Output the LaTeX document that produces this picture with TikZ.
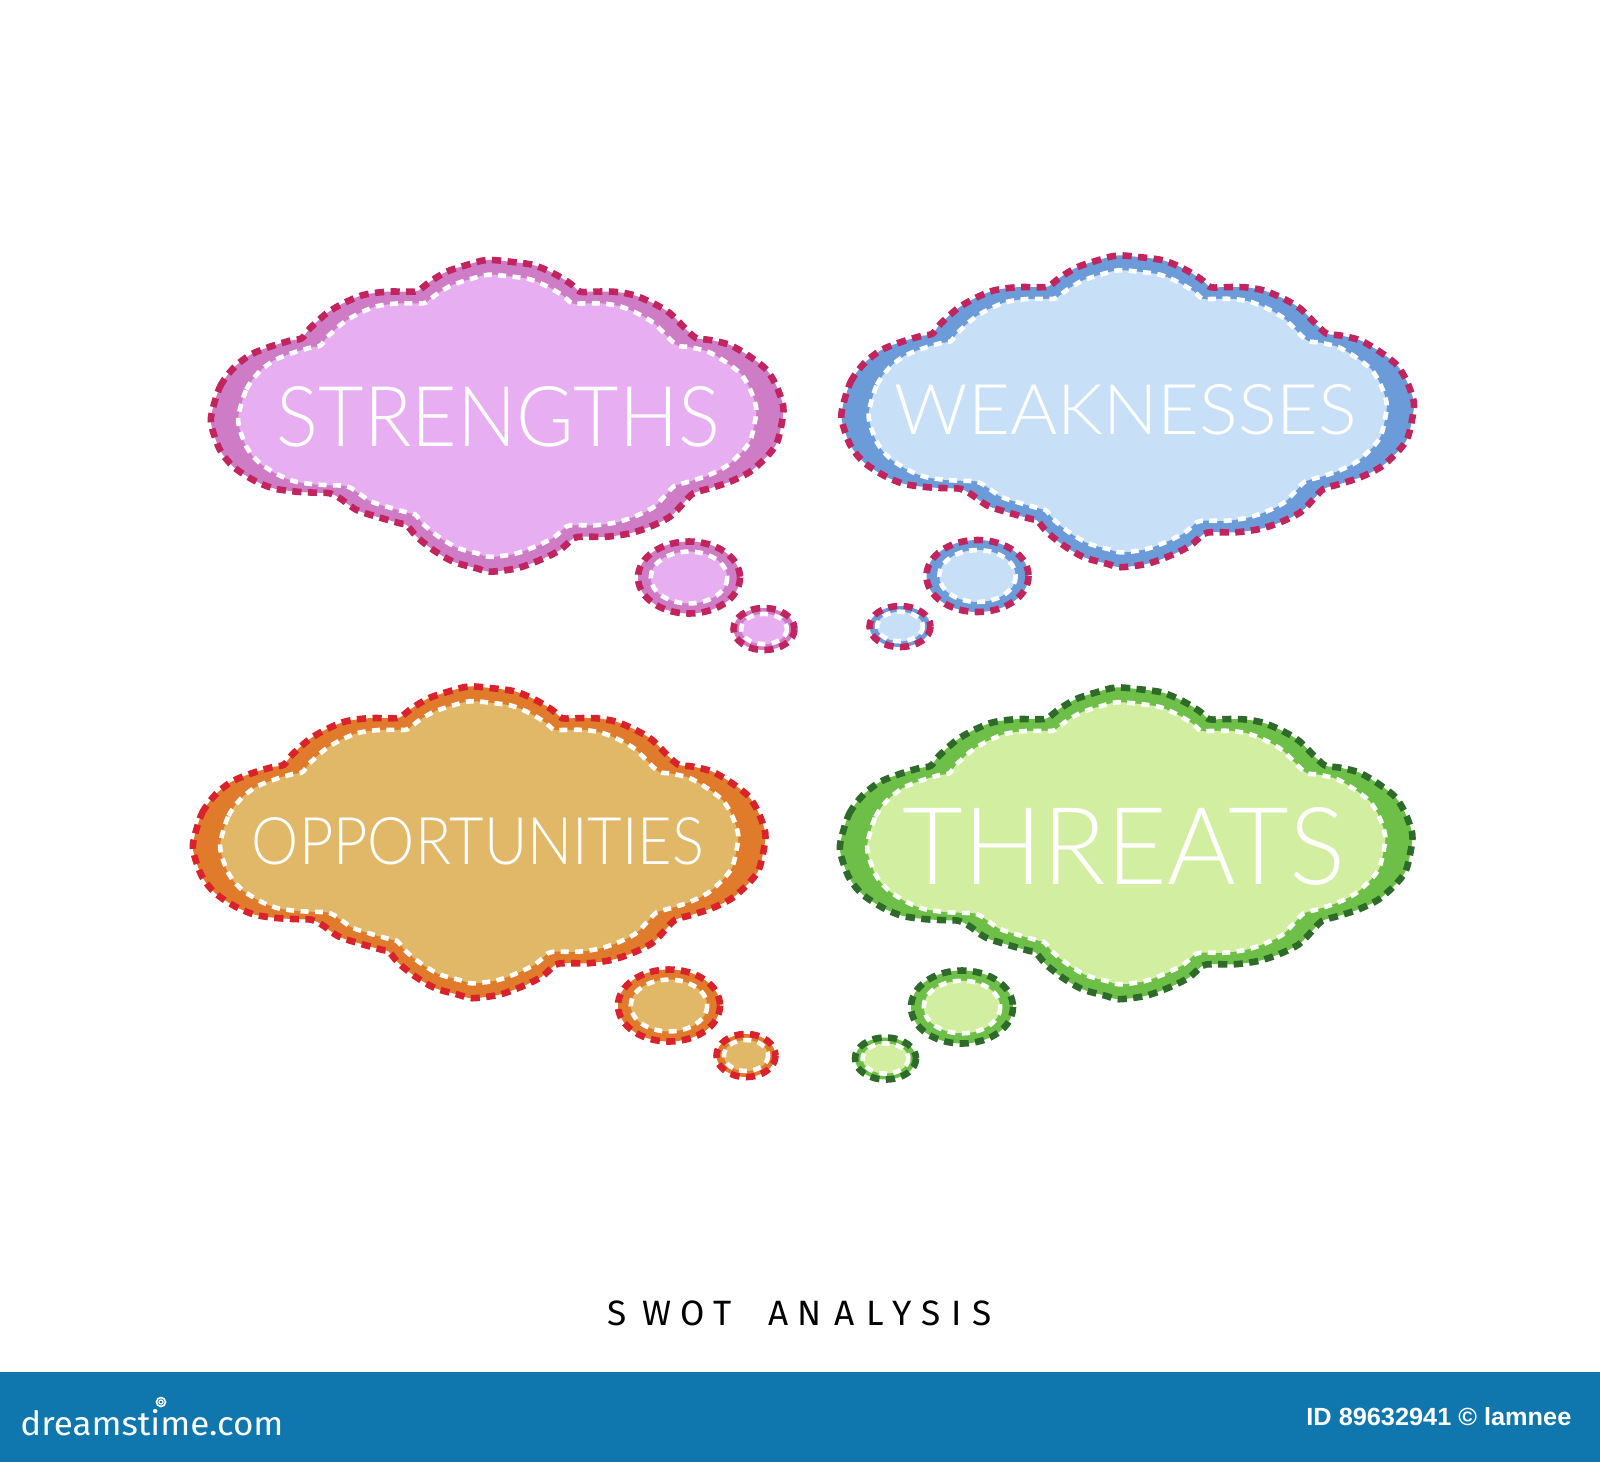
\documentclass[tikz,border=0pt]{standalone}
\usepackage{fontspec}
\setmainfont{Fira Sans}
\IfFontExistsTF{Lato Light}{\newfontfamily\thinfont{Lato Light}}{%
  \IfFontExistsTF{Open Sans Light}{\newfontfamily\thinfont{Open Sans Light}}{%
    \newfontfamily\thinfont{Carlito}}}
\newfontfamily\barfont{Liberation Sans}
\usepackage{graphicx}
\definecolor{sfill}{HTML}{E8AEF2}
\definecolor{sband}{HTML}{CF7CC6}
\definecolor{sdash}{HTML}{C2245F}
\definecolor{wfill}{HTML}{C7E0F7}
\definecolor{wband}{HTML}{6B9BD9}
\definecolor{wdash}{HTML}{C2245F}
\definecolor{ofill}{HTML}{E1B867}
\definecolor{oband}{HTML}{DF7B2B}
\definecolor{odash}{HTML}{D9222B}
\definecolor{tfill}{HTML}{D2EEA0}
\definecolor{tband}{HTML}{6DBF47}
\definecolor{tdash}{HTML}{2E6B2A}
\definecolor{barblue}{HTML}{0F77AE}
\def\cloudpath{plot[smooth cycle,tension=0.5] coordinates {
(-285.8,-2.2) (-277.5,-28.8) (-264.2,-47.2) (-247.5,-60.5) (-227.5,-68.8) (-207.5,-74.8) (-195.8,-77.2) (-187.5,-87.2) (-170.8,-102.2) (-154.2,-112.2) (-134.2,-120.5) (-110.8,-123.8) (-87.5,-123.8) (-79.2,-124.8) (-67.5,-133.8) (-50.8,-143.8) (-30.8,-150.5) (-10.8,-155.5) (12.5,-153.8) (35.8,-150.5) (55.8,-142.2) (72.5,-132.2) (82.5,-123.8) (92.5,-123.8) (115.8,-123.8) (135.8,-120.5) (155.8,-112.2) (172.5,-102.2) (189.2,-85.5) (199.2,-77.2) (212.5,-75.5) (232.5,-70.5) (252.5,-58.8) (269.2,-45.5) (279.2,-28.8) (285.8,-8.8) (284.2,7.8) (279.2,27.8) (269.2,41.2) (252.5,56.2) (232.5,66.2) (212.5,72.8) (195.8,77.8) (185.8,87.8) (172.5,101.2) (152.5,111.2) (132.5,117.8) (109.2,121.2) (85.8,121.2) (75.8,122.8) (62.5,134.5) (42.5,144.5) (19.2,152.8) (-7.5,156.2) (-20.8,152.8) (-44.2,146.2) (-64.2,134.5) (-80.8,121.2) (-90.8,109.5) (-97.5,107.8) (-120.8,101.2) (-140.8,94.5) (-157.5,82.8) (-167.5,77.8) (-180.8,77.2) (-200.8,76.2) (-224.2,72.8) (-244.2,64.5) (-264.2,51.2) (-277.5,34.5) (-285.8,11.2)
}}
\tikzset{
  darkdash/.style={line width=3.3pt, dash pattern=on 4.6pt off 3.2pt},
  whitedash/.style={white, line width=2.3pt, dash pattern=on 4pt off 3.2pt},
  word/.style={inner sep=0pt, text=white},
  titlelet/.style={inner sep=0pt, anchor=base, font=\fontsize{17.6}{20}\selectfont, text=black},
}
\newcommand{\swotcloud}[5]{%
  \begin{scope}[shift={(#1,#2)}]
    \fill[#3] \cloudpath;
    \draw[#5, darkdash] \cloudpath;
    \begin{scope}[scale=0.905]
      \fill[#4] \cloudpath;
      \draw[whitedash] \cloudpath;
    \end{scope}
  \end{scope}}
\newcommand{\swotbubble}[7]{%
  \fill[#5] (#1,#2) ellipse [x radius=#3, y radius=#4];
  \draw[#7, darkdash] (#1,#2) ellipse [x radius=#3, y radius=#4];
  \fill[#6] (#1,#2) ellipse [x radius=0.75*#3, y radius=0.72*#4];
  \draw[whitedash] (#1,#2) ellipse [x radius=0.75*#3, y radius=0.72*#4];}
\begin{document}
\begin{tikzpicture}[x=0.5pt, y=-0.5pt]
\useasboundingbox (0,0) rectangle (1600,1462);
\fill[white] (0,0) rectangle (1600,1462);

% clouds
\swotcloud{497.5}{415.5}{sband}{sfill}{sdash}
\swotcloud{1128}{411}{wband}{wfill}{wdash}
\swotcloud{479.5}{842}{oband}{ofill}{odash}
\swotcloud{1126.5}{843}{tband}{tfill}{tdash}

% thought bubbles
\swotbubble{689}{577.5}{51}{36}{sband}{sfill}{sdash}
\swotbubble{764}{629}{30.5}{21}{sband}{sfill}{sdash}
\swotbubble{977.5}{576}{51}{36}{wband}{wfill}{wdash}
\swotbubble{900}{626.5}{30.5}{20.5}{wband}{wfill}{wdash}
\swotbubble{669}{1005.5}{51}{36}{oband}{ofill}{odash}
\swotbubble{746}{1055.5}{29.5}{21.5}{oband}{ofill}{odash}
\swotbubble{962}{1007}{51}{36.5}{tband}{tfill}{tdash}
\swotbubble{885.5}{1058.5}{30.5}{21}{tband}{tfill}{tdash}

% words
\node[word] (strengths) at (498.5,416.5) {\resizebox{221.5pt}{30pt}{\thinfont STRENGTHS}};
\node[word] (weaknesses) at (1126,410) {\resizebox{231pt}{25pt}{\thinfont WEAKNESSES}};
\node[word] (opportunities) at (478,841.5) {\resizebox{226pt}{23.5pt}{\thinfont OPPORTUNITIES}};
\node[word] (threats) at (1124,846.5) {\resizebox{221pt}{38.5pt}{\thinfont THREATS}};

% title
\foreach \ch/\xx [count=\i] in {S/616.7, W/657.5, O/693, T/723, A/778.3, N/810, A/844.2, L/875.5, Y/902.3, S/930.8, I/956.7, S/982.3}
  \node[titlelet] (title\i) at (\xx,1325) {\ch};

% bottom bar
\fill[barblue] (0,1372) rectangle (1600,1462);
\node[inner sep=0pt, text=white, anchor=south west] (brand) at (20,1436) {\resizebox{131.5pt}{13pt}{dreamstime.com}};
\draw[white, line width=0.8pt] (161,1402) circle [radius=4.5];
\draw[white, line width=0.6pt] (161,1402) circle [radius=2];
\node[inner sep=0pt, text=white, anchor=south west] (imgid) at (1306,1426) {\resizebox{132.5pt}{9pt}{\barfont\bfseries ID 89632941 © lamnee}};
\end{tikzpicture}
\end{document}
